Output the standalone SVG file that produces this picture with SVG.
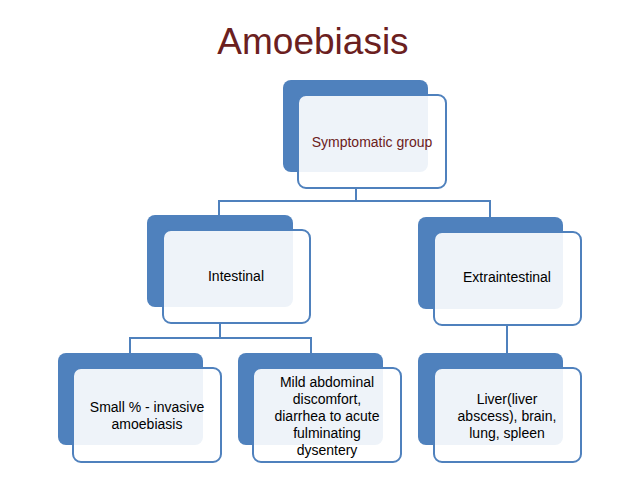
<svg xmlns="http://www.w3.org/2000/svg" width="638" height="478" viewBox="0 0 638 478">
<style>
.b{fill:#4f81bd}
.w{fill:#fff;fill-opacity:0.9;stroke:#4f81bd;stroke-width:2}
.t{font-family:"Liberation Sans",Arial,sans-serif;font-size:14px;fill:#000;text-anchor:middle}
.c{fill:none;stroke:#4f81bd;stroke-width:2}
</style>
<rect width="638" height="478" fill="#fff"/>
<text x="313" y="54" font-family="Liberation Sans,Arial,sans-serif" font-size="37" fill="#6b2020" text-anchor="middle">Amoebiasis</text>
<g id="connectors">
<path class="c" d="M356 188V201M219 217V201H490V217"/>
<path class="c" d="M220 323V338M130 353V338H311V353"/>
<path class="c" d="M507 325V353"/>
</g>
<g id="n1"><rect class="b" x="283" y="80" width="145" height="92" rx="8"/><rect class="w" x="298" y="95" width="148" height="93" rx="8"/><text class="t" x="372" y="147" fill="#6b2020" style="fill:#6b2020">Symptomatic group</text></g>
<g id="n2"><rect class="b" x="147" y="215" width="146" height="92" rx="8"/><rect class="w" x="163" y="230" width="147" height="93" rx="8"/><text class="t" x="236" y="281">Intestinal</text></g>
<g id="n3"><rect class="b" x="418" y="217" width="145" height="92" rx="8"/><rect class="w" x="434" y="232" width="147" height="93" rx="8"/><text class="t" x="507" y="282">Extraintestinal</text></g>
<g id="n4"><rect class="b" x="58" y="353" width="145" height="92" rx="8"/><rect class="w" x="73" y="368" width="148" height="94" rx="8"/><text class="t" x="147" y="412">Small % - invasive</text><text class="t" x="147" y="429">amoebiasis</text></g>
<g id="n5"><rect class="b" x="238" y="353" width="145" height="92" rx="8"/><rect class="w" x="253" y="368" width="148" height="94" rx="8"/><text class="t" x="327" y="387">Mild abdominal</text><text class="t" x="327" y="404">discomfort,</text><text class="t" x="327" y="421">diarrhea to acute</text><text class="t" x="327" y="438">fulminating</text><text class="t" x="327" y="455">dysentery</text></g>
<g id="n6"><rect class="b" x="418" y="353" width="145" height="92" rx="8"/><rect class="w" x="434" y="368" width="147" height="94" rx="8"/><text class="t" x="507" y="404">Liver(liver</text><text class="t" x="507" y="421">abscess), brain,</text><text class="t" x="507" y="438">lung, spleen</text></g>
</svg>
